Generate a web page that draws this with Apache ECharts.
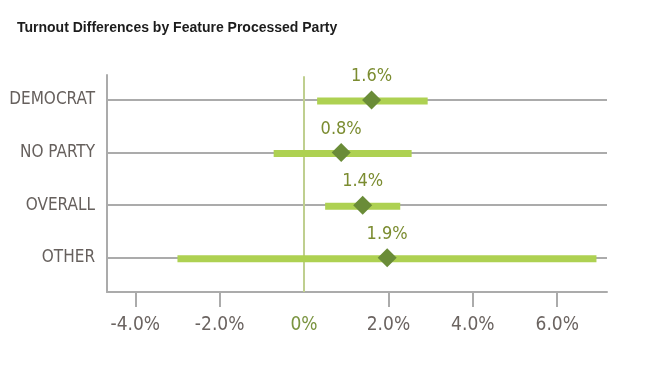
<!DOCTYPE html>
<html>
<head>
<meta charset="utf-8">
<script src="https://cdn.jsdelivr.net/npm/echarts@6/dist/echarts.min.js"></script>
<style>
html,body{margin:0;padding:0;background:#fff;}
#chart{width:658px;height:389px;}
</style>
</head>
<body>
<div id="chart"></div>
<script>
// Data
const categories = ['DEMOCRAT', 'NO PARTY', 'OVERALL', 'OTHER'];
const pointValues = [1.6, 0.88, 1.39, 1.97];
const pointLabels = ['1.6%', '0.8%', '1.4%', '1.9%'];
const lowValues = [0.31, -0.72, 0.50, -3.0];
const highValues = [2.93, 2.55, 2.28, 6.93];
const xTickValues = [-4, -2, 2, 4, 6];
const xLabelValues = [-4, -2, 0, 2, 4, 6];
const xLabelTexts = ['-4.0%', '-2.0%', '0%', '2.0%', '4.0%', '6.0%'];

const FONT = '"Liberation Sans Narrow", "DejaVu Sans Condensed", "Arial Narrow", sans-serif';
const GRAY = '#ababab';

const chart = echarts.init(document.getElementById('chart'), null, {renderer: 'canvas'});

const option = {
  animation: false,
  title: {
    text: 'Turnout Differences by Feature Processed Party',
    left: 12, top: 16,
    textStyle: {fontFamily: '"Liberation Sans", Arial, sans-serif', fontWeight: 'bold', fontSize: 14, color: '#1c1c1c'}
  },
  grid: {left: 107, right: 51, top: 75, bottom: 97, containLabel: false},
  xAxis: {
    type: 'value', min: -4.67, max: 7.18,
    axisLine: {show: true, onZero: false, lineStyle: {color: GRAY, width: 2}},
    axisTick: {show: true, length: 15, lineStyle: {color: GRAY, width: 2}, customValues: xTickValues},
    axisLabel: {
      customValues: xLabelValues,
      margin: 24,
      fontFamily: FONT, fontSize: 19,
      color: function (v) { return Number(v) === 0 ? '#7a9440' : '#6b6461'; },
      formatter: function (v) { const i = xLabelValues.indexOf(Number(v)); return i >= 0 ? xLabelTexts[i] : ''; }
    },
    splitLine: {show: false}
  },
  yAxis: {
    type: 'value', inverse: true, min: -0.475, max: 3.652,
    axisLine: {show: true, onZero: false, lineStyle: {color: GRAY, width: 2}},
    axisTick: {show: false, customValues: categories.map((c, i) => i)},
    axisLabel: {
      customValues: categories.map((c, i) => i),
      margin: 12,
      fontFamily: FONT, fontSize: 17, color: '#66605d',
      formatter: function (v) { return categories[Math.round(v)] || ''; }
    },
    splitLine: {show: false}
  },
  series: [
    {
      type: 'scatter', data: [], z: 1, silent: true,
      markLine: {
        z: 1,
        silent: true, symbol: 'none', animation: false,
        label: {show: false},
        data: categories.map((c, i) => ({yAxis: i, lineStyle: {color: GRAY, width: 2, type: 'solid'}}))
          .concat([[{coord: [0, -0.45], lineStyle: {color: '#bfcf8f', width: 2, type: 'solid'}}, {coord: [0, 3.652]}]])
      }
    },
    {
      type: 'custom', z: 2, silent: true,
      data: categories.map((c, i) => [lowValues[i], highValues[i], i]),
      renderItem: function (params, api) {
        const p1 = api.coord([api.value(0), api.value(2)]);
        const p2 = api.coord([api.value(1), api.value(2)]);
        const h = 7;
        return {type: 'rect', shape: {x: p1[0], y: p1[1] - h / 2 + 1, width: p2[0] - p1[0], height: h}, style: {fill: '#aed152'}};
      }
    },
    {
      type: 'scatter', z: 3, silent: true,
      symbol: 'diamond', symbolSize: [19, 19],
      itemStyle: {color: '#6a8c38', opacity: 1},
      data: categories.map((c, i) => [pointValues[i], i]),
      label: {
        show: true, position: 'top', distance: 5,
        fontFamily: FONT, fontSize: 18, color: '#7b8c30',
        formatter: function (p) { return pointLabels[p.dataIndex]; }
      }
    }
  ]
};
chart.setOption(option);
</script>
</body>
</html>
